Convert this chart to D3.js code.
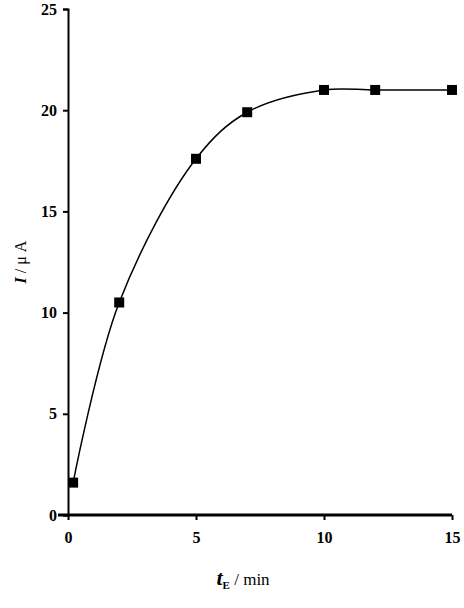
<!DOCTYPE html>
<html>
<head>
<meta charset="utf-8">
<script src="https://d3js.org/d3.v7.min.js"></script>
<style>
  body { margin: 0; background: #fff; }
  text { font-family: "Liberation Serif", serif; font-weight: bold; fill: #000; }
</style>
</head>
<body>
<div id="chart"></div>
<script>
// data
var timeMin = [0.2, 2, 5, 7, 10, 12, 15];
var currentUA = [1.6, 10.5, 17.6, 19.9, 21, 21, 21];
var xTicks = [0, 5, 10, 15];
var yTicks = [0, 5, 10, 15, 20, 25];

var W = 464, H = 608;
var margin = {top: 9, right: 12, bottom: 93, left: 68};
var width = W - margin.left - margin.right,
    height = H - margin.top - margin.bottom;

var svg = d3.select("#chart").append("svg")
    .attr("width", W).attr("height", H)
  .append("g")
    .attr("transform", "translate(" + margin.left + "," + margin.top + ")");

var x = d3.scaleLinear().domain([0, 15]).range([0, 384]);
var y = d3.scaleLinear().domain([0, 25]).range([height, 0]);

// y axis
var ya = svg.append("g")
  .call(d3.axisLeft(y).tickValues(yTicks).tickSize(5).tickPadding(6));
ya.select(".domain").attr("stroke-width", 2);
ya.selectAll(".tick line").attr("stroke-width", 2);
ya.selectAll("text").style("font-size", "16px");

// x axis
var xa = svg.append("g")
  .attr("transform", "translate(0," + height + ")")
  .call(d3.axisBottom(x).tickValues(xTicks).tickSize(5).tickPadding(12).tickSizeOuter(0));
xa.select(".domain").attr("stroke-width", 3).attr("d", "M-10,0H" + width);
xa.selectAll(".tick line").attr("stroke-width", 2);
xa.selectAll("text").style("font-size", "16px");

// axis titles
svg.append("text")
  .attr("transform", "translate(-42," + y(12.5) + ") rotate(-90)")
  .attr("text-anchor", "middle")
  .style("font-size", "16px")
  .html('<tspan font-style="italic">I</tspan><tspan font-weight="normal"> / μ A</tspan>');

svg.append("text")
  .attr("x", x(5.8)).attr("y", height + 70)
  .style("font-size", "17px")
  .html('<tspan font-style="italic" style="font-size:22px">t</tspan><tspan dy="4" style="font-size:11px">E</tspan><tspan dy="-4" font-weight="normal"> / min</tspan>');

var pts = timeMin.map(function(t, i) { return [t, currentUA[i]]; });

svg.append("path")
  .datum(pts)
  .attr("fill", "none").attr("stroke", "#000").attr("stroke-width", 1.5)
  .attr("d", d3.line().x(function(d) { return x(d[0]); }).y(function(d) { return y(d[1]); })
    .curve(d3.curveCatmullRom.alpha(0.5)));

svg.selectAll(".pt").data(pts).enter().append("rect")
  .attr("x", function(d) { return x(d[0]) - 5; })
  .attr("y", function(d) { return y(d[1]) - 5; })
  .attr("width", 10).attr("height", 10).attr("fill", "#000");
</script>
</body>
</html>
